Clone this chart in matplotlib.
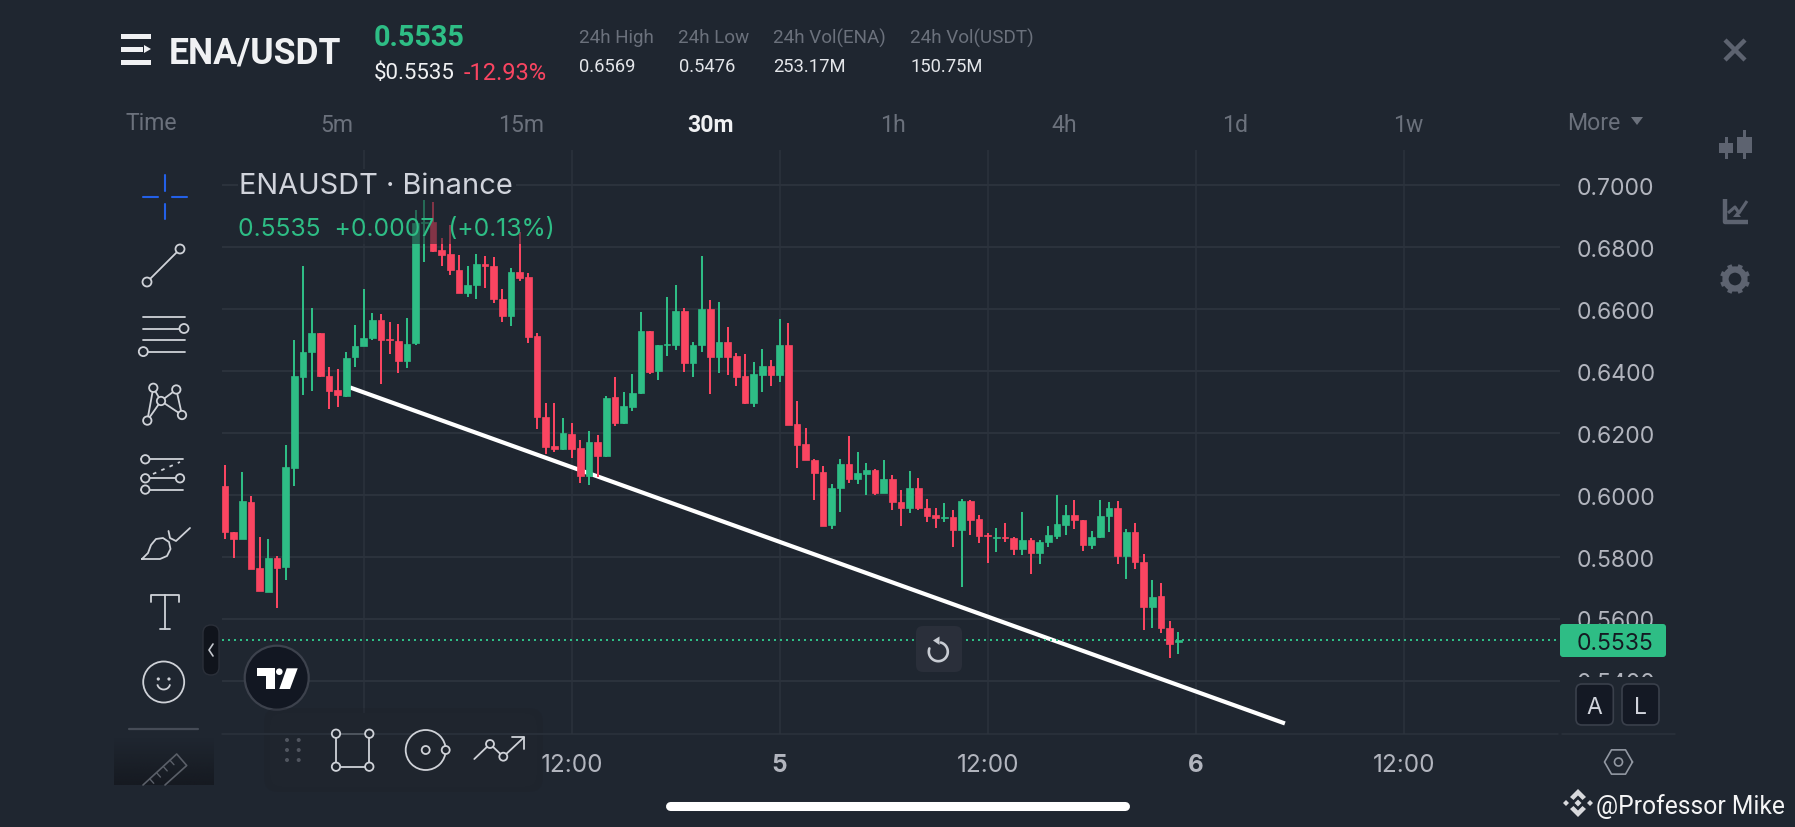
"""ENA/USDT 30m candles, Binance app screenshot style."""
import numpy as np
import matplotlib
matplotlib.use("Agg")
import matplotlib.pyplot as plt
from matplotlib.patches import Circle, FancyBboxPatch, Polygon, Rectangle

BG = "#1f2630"
GRID = "#2c333d"
GREEN = "#2ebd85"
RED = "#fa4561"
ICON = "#cfd2d8"
MUTED = "#6b717c"
SIDE = "#5d6370"

# candles, one value per 30 minutes
opens = [.6029, .5880, .5858, .5977, .5765, .5688, .5797, .5768, .6088, .6382,
         .6460, .6524, .6384, .6338, .6320, .6444, .6481, .6505, .6563, .6502,
         .6496, .6432, .6489, .6878, .6882, .6789, .6776, .6726, .6653, .6677,
         .6744, .6739, .6632, .6577, .6719, .6704, .6512, .6253, .6159, .6147,
         .6197, .6152, .6061, .6172, .6125, .6315, .6232, .6284, .6328, .6529,
         .6400, .6485, .6484, .6593, .6427, .6484, .6599, .6444, .6495, .6448,
         .6384, .6297, .6386, .6416, .6388, .6484, .6228, .6163, .6114, .6073,
         .5903, .6022, .6100, .6051, .6069, .6082, .6007, .6051, .5977, .5959,
         .6022, .5958, .5934, .5926, .5928, .5888, .5981, .5923, .5871, .5861,
         .5866, .5860, .5826, .5856, .5813, .5849, .5869, .5904, .5934, .5919,
         .5838, .5863, .5933, .5957, .5804, .5881, .5785, .5639, .5673, .5571,
         .5525]
closes = [.5880, .5858, .5980, .5762, .5690, .5797, .5766, .6091, .6384, .6461,
          .6524, .6384, .6337, .6322, .6443, .6482, .6508, .6563, .6500, .6499,
          .6432, .6488, .6876, .6880, .6787, .6775, .6726, .6653, .6676, .6745,
          .6740, .6632, .6577, .6719, .6699, .6510, .6252, .6156, .6147, .6199,
          .6149, .6061, .6172, .6125, .6314, .6232, .6287, .6329, .6529, .6398,
          .6483, .6488, .6592, .6427, .6484, .6599, .6444, .6495, .6444, .6382,
          .6297, .6390, .6416, .6387, .6484, .6227, .6162, .6112, .6072, .5901,
          .6023, .6100, .6051, .6071, .6081, .6006, .6051, .5976, .5959, .6022,
          .5959, .5933, .5925, .5930, .5887, .5982, .5920, .5867, .5867, .5866,
          .5861, .5826, .5855, .5813, .5849, .5870, .5905, .5934, .5919, .5838,
          .5866, .5933, .5957, .5804, .5881, .5785, .5639, .5671, .5571, .5520,
          .5531]
highs = [.6097, .5880, .6074, .5997, .5866, .5858, .5803, .6161, .6501, .6739,
         .6602, .6524, .6414, .6405, .6462, .6547, .6665, .6588, .6583, .6558,
         .6553, .6571, .6921, .6974, .6944, .6828, .6871, .6774, .6739, .6776,
         .6772, .6767, .6663, .6731, .6847, .6715, .6522, .6297, .6297, .6247,
         .6231, .6177, .6208, .6195, .6319, .6381, .6333, .6390, .6589, .6529,
         .6485, .6640, .6677, .6604, .6494, .6772, .6629, .6623, .6542, .6459,
         .6455, .6428, .6472, .6435, .6567, .6555, .6304, .6215, .6115, .6095,
         .6035, .6115, .6190, .6138, .6102, .6083, .6114, .6063, .6016, .6076,
         .6055, .5986, .5958, .5973, .5953, .5987, .5983, .5936, .5876, .5895,
         .5909, .5863, .5944, .5861, .5855, .5901, .6000, .5968, .5984, .5919,
         .5885, .5984, .5977, .5982, .5889, .5909, .5810, .5725, .5716, .5592,
         .5559]
lows = [.5857, .5796, .5858, .5761, .5690, .5688, .5634, .5726, .6028, .6323,
        .6337, .6382, .6276, .6285, .6317, .6414, .6481, .6500, .6359, .6456,
        .6392, .6411, .6484, .6753, .6785, .6739, .6710, .6653, .6640, .6632,
        .6668, .6620, .6559, .6545, .6690, .6491, .6213, .6131, .6138, .6145,
        .6119, .6040, .6033, .6059, .6123, .6223, .6230, .6270, .6325, .6391,
        .6371, .6449, .6468, .6397, .6382, .6462, .6326, .6395, .6386, .6353,
        .6294, .6283, .6333, .6351, .6363, .6227, .6086, .6112, .5984, .5901,
        .5891, .5946, .6039, .6035, .5999, .6000, .6006, .5951, .5901, .5941,
        .5952, .5914, .5894, .5912, .5831, .5703, .5871, .5846, .5782, .5815,
        .5849, .5806, .5808, .5746, .5777, .5832, .5859, .5872, .5891, .5819,
        .5825, .5862, .5881, .5777, .5728, .5760, .5565, .5571, .5554, .5473,
        .5486]

price_ticks = [.70, .68, .66, .64, .62, .60, .58, .56, .54]
time_ticks = [16, 40, 64, 88, 112, 136]
time_labels = ["4", "12:00", "5", "12:00", "6", "12:00"]
last_price = 0.5532
trend_x = [14.42, 122.3]
trend_y = [0.6347, 0.5263]

W, H = 1795, 828
plt.rcParams["font.family"] = ["Inter", "DejaVu Sans"]
fig = plt.figure(figsize=(W / 100, H / 100), dpi=100, facecolor=BG)

# price pane spans x 222-1560, y 151-735 in image pixels
ax = fig.add_axes([222 / W, 1 - 735 / H, (1560 - 222) / W, (735 - 151) / H], facecolor=BG)
ax.set_xlim(-0.346, 154.04)
ax.set_ylim(0.5229, 0.7113)
for s in ax.spines.values():
    s.set_visible(False)
ax.set_axisbelow(True)
ax.yaxis.tick_right()
ax.set_yticks(price_ticks)
ax.set_yticklabels([f"{p:.4f}" for p in price_ticks])
ax.set_xticks(time_ticks)
ax.set_xticklabels(time_labels)
ax.tick_params(axis="y", length=0, pad=12, labelsize=16.5, labelcolor="#b2b5be")
ax.tick_params(axis="x", length=0, pad=14, labelsize=17.5, labelcolor="#b2b5be")
for lab in ax.get_xticklabels():
    if ":" not in lab.get_text():
        lab.set_fontweight("bold")
ax.grid(axis="y", color=GRID, lw=1.4)
ax.grid(axis="x", color=GRID, lw=1.1)

x = np.arange(len(opens))
o, c, hi, lo = map(np.array, (opens, closes, highs, lows))
colors = [GREEN if b >= a else RED for a, b in zip(o, c)]
ax.plot(trend_x, trend_y, color="white", lw=3.0, solid_capstyle="butt", zorder=2)
ax.vlines(x, lo, hi, colors=colors, lw=1.44, zorder=3)
ax.bar(x, np.abs(c - o), bottom=np.minimum(o, c), width=0.8, color=colors,
       edgecolor=colors, linewidth=0.5, zorder=3)
ax.axhline(last_price, color=GREEN, lw=1.44, ls=(0, (1, 2)), zorder=2)

# everything around the chart is drawn in image pixels on an overlay, one pixel down
ov = fig.add_axes([0, 0, 1, 1], facecolor="none")
ov.set_xlim(0, W)
ov.set_ylim(H - 1, -1)
ov.axis("off")


def txt(px, py, s, size, color, ha="left", weight="normal", family="Roboto", **kw):
    ov.text(px, py, s, fontsize=size, color=color, ha=ha, va="center_baseline",
            fontweight=weight, family=[family, "DejaVu Sans"], **kw)


def line(pts, color=ICON, lw=1.3, **kw):
    pts = np.array(pts)
    ov.plot(pts[:, 0], pts[:, 1], color=color, lw=lw, solid_capstyle=kw.pop("cap", "round"), **kw)


def ring(cx, cy, r=4.5, color=ICON, lw=1.3, fill=BG):
    ov.add_patch(Circle((cx, cy), r, fc=fill, ec=color, lw=lw, zorder=6))


def poly(pts, color=ICON):
    ov.add_patch(Polygon(pts, closed=True, fc=color, ec="none"))


def box(x0, y0, x1, y1, rad, fc, ec="none", lw=1.0, **kw):
    ov.add_patch(FancyBboxPatch((x0 + rad, y0 + rad), x1 - x0 - 2 * rad, y1 - y0 - 2 * rad,
                                boxstyle=f"round,pad={rad}", fc=fc, ec=ec, lw=lw, **kw))


def arc(cx, cy, r, a0, a1, **kw):
    t = np.radians(np.linspace(a0, a1, 40))
    line(np.c_[cx + r * np.cos(t), cy + r * np.sin(t)], **kw)


# legend over the candles
ov.add_patch(Rectangle((238, 200), 314, 44, fc=BG, ec="none", alpha=0.55))
ov.add_patch(Rectangle((238, 169), 278, 31, fc=BG, ec="none"))
txt(239, 183, "ENAUSDT · Binance", 20.9, "#d1d4dc", family="Inter")
txt(238, 226, "0.5535  +0.0007  (+0.13%)", 17.8, GREEN, family="Inter")

# header
for yy in (37, 50, 63):
    ov.add_patch(Rectangle((121, yy - 3.5), 30 if yy != 50 else 22, 5, fc="#f0f1f3", ec="none"))
poly([(144, 45), (151, 49), (144, 53)], "#f0f1f3")
txt(169, 49, "ENA/USDT", 25.6, "#f0f1f3", weight="bold")
txt(373.5, 33.5, "0.5535", 20.8, GREEN, weight="bold")
txt(374, 70, "$0.5535", 16, "#f0f1f3")
txt(464, 70, "-12.93%", 17, RED)
for px, head, val in [(579, "24h High", "0.6569"), (678.5, "24h Low", "0.5476"),
                      (773, "24h Vol(ENA)", "253.17M"), (910.5, "24h Vol(USDT)", "150.75M")]:
    txt(px, 35, head, 13.6, MUTED)
    txt(px, 64.5, val, 13.2, "#e4e6ea")

# interval row
txt(125, 120, "Time", 16.6, MUTED)
for px, lab in [(336.6, "5m"), (521, "15m"), (893, "1h"), (1064, "4h"), (1235, "1d"), (1408, "1w")]:
    txt(px, 122, lab, 16.6, MUTED, ha="center")
txt(711, 122, "30m", 16.6, "#f0f1f3", ha="center", weight="bold")
txt(1567, 120.5, "More", 16.6, MUTED)
poly([(1631, 117), (1643, 117), (1637, 125)], MUTED)

# right side icons
line([(1725, 40), (1745, 60)], SIDE, 3.2, cap="butt")
line([(1745, 40), (1725, 60)], SIDE, 3.2, cap="butt")
ov.add_patch(Rectangle((1719, 143), 14, 10, fc=SIDE))
ov.add_patch(Rectangle((1724.5, 137), 3, 22, fc=SIDE))
ov.add_patch(Rectangle((1737, 137), 15, 16, fc=SIDE))
ov.add_patch(Rectangle((1743, 130), 3, 29, fc=SIDE))
line([(1724.5, 199), (1724.5, 222), (1748, 222)], SIDE, 3.2, cap="butt")
line([(1728, 213), (1735, 207), (1739, 213), (1747, 201)], SIDE, 2.2, cap="butt")
poly([(1733, 217), (1741, 217), (1737, 212)], SIDE)
ring(1735, 279, 9.5, SIDE, 4.5, BG)
for a in np.arange(0, 360, 45):
    t = np.radians(a + 22.5)
    line([(1735 + 10 * np.cos(t), 279 + 10 * np.sin(t)),
          (1735 + 15 * np.cos(t), 279 + 15 * np.sin(t))], SIDE, 3.4, cap="butt", zorder=7)

# drawing tools on the left
BLUE = "#2360e8"
line([(142.7, 197), (158.3, 197)], BLUE, 1.5)
line([(171.7, 197), (186.7, 197)], BLUE, 1.5)
line([(164.7, 175), (164.7, 191)], BLUE, 1.5)
line([(164.7, 204), (164.7, 219)], BLUE, 1.5)
line([(147, 282), (180, 249)])
ring(180, 249)
ring(147, 282)
for yy in (316.7, 328.5, 339.8, 351.6):
    line([(142.7, yy), (185, yy)])
ring(184, 328.5)
ring(143.3, 351.6)
xabcd = [(147.3, 420.6), (153.3, 387.8), (161, 401), (176.3, 389.5), (182, 415), (161, 401), (147.3, 420.6)]
line(xabcd)
for p in xabcd[:5]:
    ring(*p, 4.2)
line([(141, 459.3), (182.7, 459.3)])
line([(141, 478.3), (180, 478.3)])
line([(141, 489.6), (182.7, 489.6)])
line([(153, 474), (180, 462)], ls=(0, (2, 3)))
for p in [(145.3, 459.3), (145.3, 478.3), (180, 478.3), (145.3, 489.6)]:
    ring(*p, 4.2)
line([(142, 559), (148, 553), (151, 545), (156, 539), (163, 538), (169, 542),
      (170.5, 549), (167, 556), (160, 559), (142, 559)])
line([(168.5, 531), (170, 538), (176, 541), (190, 528)])
line([(150.7, 602), (150.7, 595.3), (179, 595.3), (179, 602)])
line([(164.7, 595.3), (164.7, 628.5)])
line([(159.5, 628.5), (170, 628.5)])
ring(163.7, 682, 20.5)
ov.add_patch(Circle((158.3, 679), 1.6, fc=ICON, zorder=7))
ov.add_patch(Circle((169, 679), 1.6, fc=ICON, zorder=7))
t = np.radians(np.linspace(20, 160, 30))
ov.plot(163.7 + 6.5 * np.cos(t), 683 + 6.5 * np.sin(t), color=ICON, lw=1.3, zorder=7)
line([(129, 728.7), (198, 728.7)], "#464c57", 1.6)

# ruler tool fading into a darker strip
fade = np.zeros((64, 2, 4))
fade[:, :, :3] = matplotlib.colors.to_rgb("#161a21")
fade[:, :, 3] = np.linspace(0, 1, 64)[:, None]
ov.imshow(fade, extent=(114, 214, 785, 738), aspect="auto", zorder=1)
ov.set_xlim(0, W)
ov.set_ylim(H - 1, -1)
line([(143, 785), (176.7, 754), (186.7, 765.5), (165, 785)], "#5a5f68", 1.2, zorder=2)
for k in np.linspace(0.2, 0.8, 4):
    p0 = np.array([143 + 33.7 * k, 785 - 31 * k])
    line([p0, p0 + [4, 4.5]], "#5a5f68", 1.0, zorder=2)

box(203, 625, 219, 675, 8, "#10141c", "#2b303a", 1.0)
line([(213, 644), (209, 650), (213, 656)], "#c5c8ce", 1.2)

# TradingView button
ov.add_patch(Circle((276.7, 677.7), 32, fc="#121722", ec="#3d424d", lw=1.6))
poly([(256.7, 668.3), (275, 668.3), (275, 689), (266, 689), (266, 676), (256.7, 676)], "white")
ov.add_patch(Circle((279.3, 671.7), 3.3, fc="white"))
poly([(286.7, 668.3), (297.7, 668.3), (290, 689), (279.3, 689)], "white")

# floating toolbar
box(264, 708, 543, 792, 14, "#1c2029", alpha=0.3)
box(270, 713, 537, 787, 12, "#1f252e")
for px in (287, 298.7):
    for py in (740, 750, 760):
        ov.add_patch(Circle((px, py), 2, fc="#50555f"))
line([(336, 733.7), (369.3, 733.7), (369.3, 766.7), (336, 766.7), (336, 733.7)])
for p in [(336, 733.7), (369.3, 733.7), (336, 766.7), (369.3, 766.7)]:
    ring(*p, 4.2, fill="#1f252e")
ring(425.7, 750, 20, fill="#1f252e")
ring(425.7, 750, 4, fill="#1f252e")
ring(445.7, 750, 4, fill="#1f252e")
line([(474.3, 759), (490, 744), (503.3, 756.7), (524, 737.3)])
line([(512, 737.3), (524, 737.3), (524, 749)])
ring(490, 744, 4, fill="#1f252e")
ring(503.3, 756.7, 4, fill="#1f252e")

# reset button
box(916, 626, 962, 672, 7, "#2a2f3a")
arc(938.3, 651.7, 9.5, -75, 200, lw=1.9, color="#c8ccd3", zorder=7)
poly([(933, 640.5), (939.5, 636.5), (939.5, 645)], "#c8ccd3")

# last price tag and the scale corner
ov.add_patch(Rectangle((1562, 677), 110, 56, fc=BG, ec="none"))
box(1560, 624, 1666, 657, 3, GREEN)
txt(1576.7, 641, "0.5535", 16.5, "#141a22", family="Inter")
box(1576, 684, 1613.3, 725, 6, "#141924", "#3a404b", 1.2)
box(1622, 684, 1659, 725, 6, "#141924", "#3a404b", 1.2)
txt(1594.7, 705, "A", 16.5, "#d1d4dc", ha="center", family="Inter")
txt(1640.5, 705, "L", 16.5, "#d1d4dc", ha="center", family="Inter")
line([(222, 734), (1558, 734)], GRID, 1.1)
line([(1562, 734), (1675, 734)], GRID, 1.1)
t = np.radians(np.arange(0, 361, 60))
line(np.c_[1618.5 + 14 * np.cos(t), 762 + 14 * np.sin(t)], "#9298a2", 1.2)
ring(1618.5, 762, 4, "#9298a2", 1.2)

# watermark and home bar
for cx, cy, r in [(1566, 803, 3), (1590, 803, 3), (1578, 803, 3.5)]:
    poly([(cx - r, cy), (cx, cy - r), (cx + r, cy), (cx, cy + r)], "#d8d9dc")
poly([(1578, 789), (1586, 797), (1582.5, 800), (1578, 795.5), (1573.5, 800), (1570, 797)], "#d8d9dc")
poly([(1578, 817), (1586, 809), (1582.5, 806), (1578, 810.5), (1573.5, 806), (1570, 809)], "#d8d9dc")
txt(1596, 803, "@Professor Mike", 17.7, "#f4f4f5")
line([(670, 806), (1125, 806)], "white", 6.5)

fig.savefig("out.png", dpi=100, facecolor=BG)
